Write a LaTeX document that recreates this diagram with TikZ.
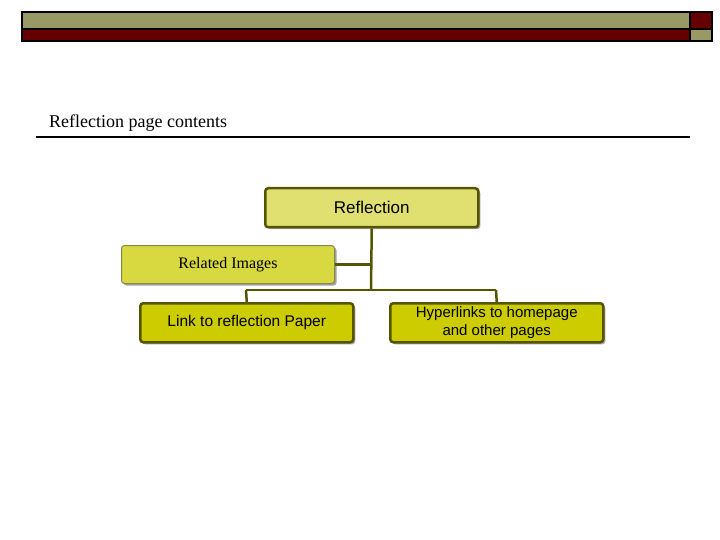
\documentclass[tikz,border=0pt]{standalone}
\usepackage{fontspec}
\usetikzlibrary{shadows}
\newfontfamily\sansf{Liberation Sans}
\setmainfont{Liberation Serif}
\definecolor{olivebar}{HTML}{999966}
\definecolor{darkred}{HTML}{660000}
\definecolor{edge}{HTML}{555500}
\definecolor{fa}{HTML}{E0E070}
\definecolor{fb}{HTML}{D8D840}
\definecolor{fc}{HTML}{CCCC00}
\begin{document}
\begin{tikzpicture}[x=1pt,y=-1pt,
  box/.style={draw=edge,line width=2.5pt,rounded corners=3pt,minimum width=213pt,minimum height=39pt,anchor=north west,inner sep=0pt,
    drop shadow={shadow xshift=2pt,shadow yshift=-2pt,fill=black!45,opacity=0.8}},
  conn/.style={draw=edge,line width=2.5pt}]
\useasboundingbox (0,0) rectangle (720,540);
\fill[white] (0,0) rectangle (720,540);
\draw[line width=1.5pt,fill=olivebar] (22,12) rectangle (690,29);
\draw[line width=1.5pt,fill=darkred] (22,29) rectangle (690,41);
\draw[line width=1.5pt,fill=darkred] (690,12) rectangle (712,29);
\draw[line width=1.5pt,fill=olivebar] (690,29) rectangle (712,41);
\node[anchor=west,font=\fontsize{18}{20}\selectfont,inner sep=0pt] (title) at (49,123) {Reflection page contents};
\draw[line width=1.2pt] (36,137) -- (690,137);
\coordinate (j1) at (371,263);
\coordinate (j2) at (371,290);
\coordinate (jl) at (246,290);
\coordinate (jr) at (496,290);
\node[box,fill=fa,font=\sansf\fontsize{17}{19}\selectfont] (root) at (264,187) {Reflection};
\node[box,fill=fb,draw=edge!70,line width=1pt,minimum height=38pt,font=\fontsize{16}{18}\selectfont] (rel) at (121,245) {Related Images};
\node[box,fill=fc,font=\sansf\fontsize{15.5}{18}\selectfont] (link) at (139,302) {Link to reflection Paper};
\node[box,fill=fc,align=center,font=\sansf\fontsize{15}{18}\selectfont] (hyp) at (389,302) {Hyperlinks to homepage\\and other pages};
\draw[conn] (root.south) -- (j2);
\draw[conn] (rel.east) -- (rel.east -| j1);
\draw[conn] (jl) -- (jr);
\draw[conn] (jl) -- (link.north);
\draw[conn] (jr) -- (hyp.north);
\end{tikzpicture}
\end{document}
